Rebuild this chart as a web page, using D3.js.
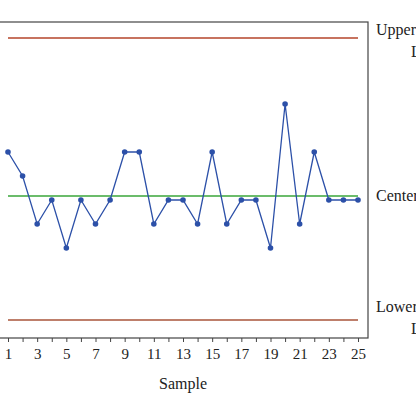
<!DOCTYPE html><html><head><meta charset="utf-8"><script src="https://cdn.jsdelivr.net/npm/d3@7"></script>
<style>body{margin:0;background:#fff}text{font-family:"Liberation Serif",serif;fill:#222}</style></head><body><svg id="c" width="416" height="416"></svg>
<script>
const samples = d3.range(1, 26);
const values = [7,6,4,5,3,5,4,5,7,7,4,5,5,4,7,4,5,5,3,9,4,7,5,5,5];
const tickLabels = [1,3,5,7,9,11,13,15,17,19,21,23,25];
const ucl = 11.75, center = 5.17, lcl = 0;
const svg = d3.select("#c");
const x = d3.scaleLinear().domain([1, 25]).range([8, 358]);
const y = d3.scaleLinear().domain([0, 11.75]).range([320, 38]);
// frame
svg.append("rect").attr("x", -20).attr("y", 22).attr("width", 388).attr("height", 316).attr("fill", "none").attr("stroke", "#444").attr("stroke-width", 1.2);
const ax = svg.append("g").attr("transform", "translate(0,338)").call(d3.axisBottom(x).tickValues(samples).tickSize(4).tickFormat(d => tickLabels.includes(d) ? d : ""));
ax.select(".domain").remove();
ax.selectAll("line").attr("stroke", "#444");
ax.selectAll("text").attr("font-size", 15).attr("dy", "0.9em").style("font-family", "Liberation Serif").attr("fill", "#222");
svg.append("text").attr("x", 183).attr("y", 389).attr("text-anchor", "middle").attr("font-size", 16).text("Sample");
[[ucl, "#b5442a"], [lcl, "#a8553a"], [center, "#3aa63a"]].forEach(([v, c]) => {
  svg.append("line").attr("x1", x(1)).attr("x2", x(25)).attr("y1", y(v)).attr("y2", y(v)).attr("stroke", c).attr("stroke-width", 1.5);
});
svg.append("path").datum(values).attr("fill", "none").attr("stroke", "#2c50a8").attr("stroke-width", 1.3)
  .attr("d", d3.line().x((d, i) => x(samples[i])).y(d => y(d)));
svg.selectAll("circle").data(values).join("circle").attr("cx", (d, i) => x(samples[i])).attr("cy", d => y(d)).attr("r", 2.8).attr("fill", "#2c50a8");
const lab = [["Upper Control", 376, 35], ["Limit", 411, 57], ["Center", 376, 201], ["Lower Control", 376, 312], ["Limit", 411, 334]];
lab.forEach(([t, lx, ly]) => svg.append("text").attr("x", lx).attr("y", ly).attr("font-size", 16).text(t));
</script></body></html>
